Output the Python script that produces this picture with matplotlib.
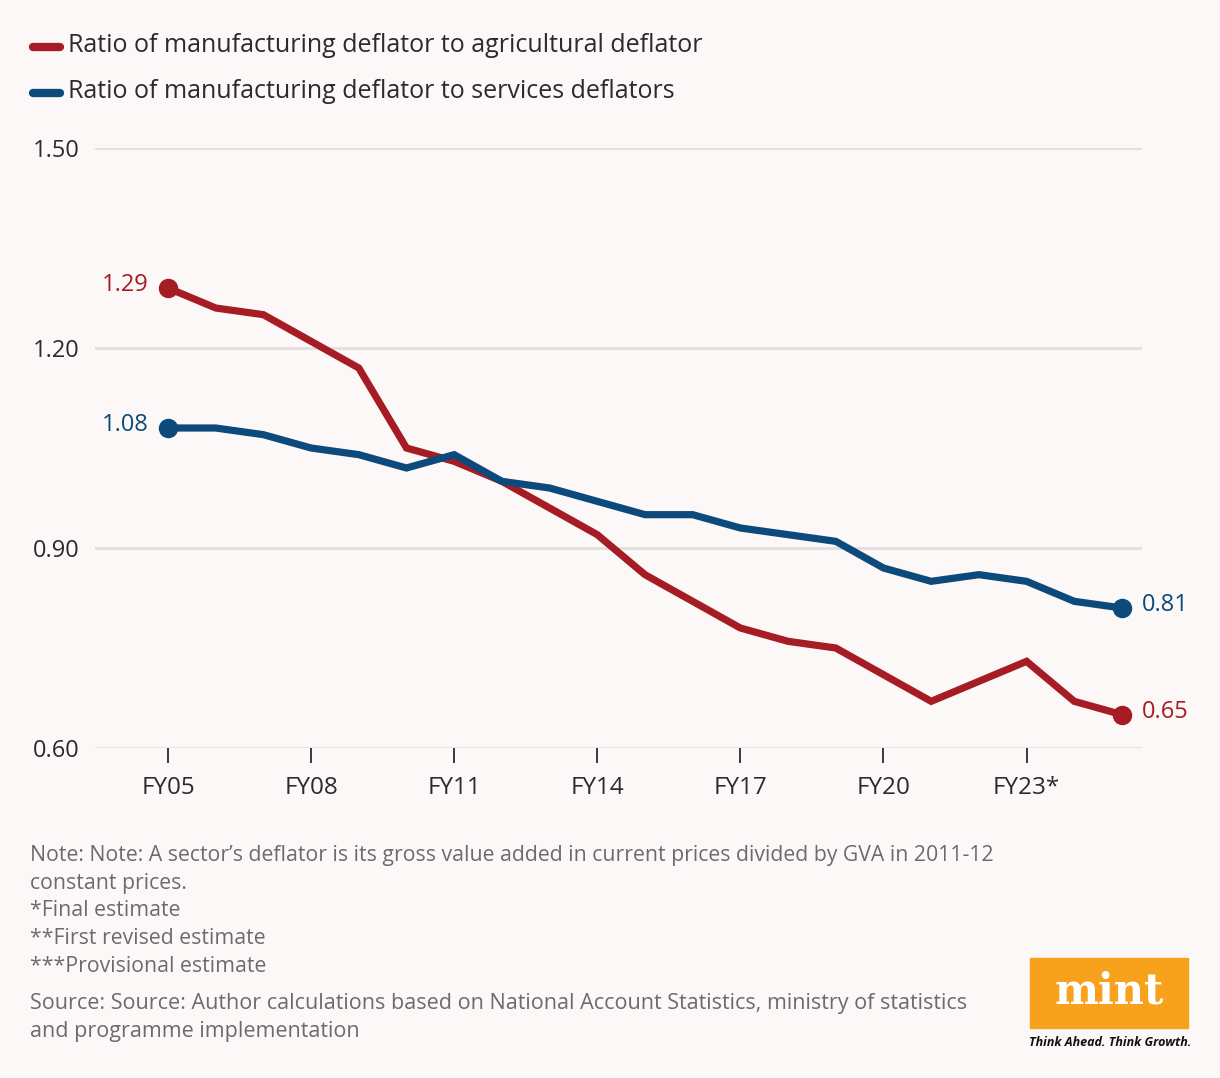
import matplotlib.pyplot as plt
from matplotlib.lines import Line2D
from matplotlib.patches import Rectangle

# data, FY05 .. FY25
years = ["FY05", "FY06", "FY07", "FY08", "FY09", "FY10", "FY11", "FY12", "FY13", "FY14",
         "FY15", "FY16", "FY17", "FY18", "FY19", "FY20", "FY21", "FY22", "FY23*", "FY24", "FY25"]
agri_ratio = [1.29, 1.26, 1.25, 1.21, 1.17, 1.05, 1.03, 1.00, 0.96, 0.92,
              0.86, 0.82, 0.78, 0.76, 0.75, 0.71, 0.67, 0.70, 0.73, 0.67, 0.65]
serv_ratio = [1.08, 1.08, 1.07, 1.05, 1.04, 1.02, 1.04, 1.00, 0.99, 0.97,
              0.95, 0.95, 0.93, 0.92, 0.91, 0.87, 0.85, 0.86, 0.85, 0.82, 0.81]
y_ticks = [0.60, 0.90, 1.20, 1.50]
x_tick_idx = [0, 3, 6, 9, 12, 15, 18]

RED = "#a51c24"
BLUE = "#0b4a7b"
BG = "#fdf8f8"
TXT = "#2b2b2b"
GREY = "#6b6b6b"

plt.rcParams['font.family'] = ['Open Sans', 'DejaVu Sans']

fig = plt.figure(figsize=(12.2, 10.78), dpi=100, facecolor=BG)
W, H = 1220, 1078
ax = fig.add_axes([95 / W, 1 - 748 / H, (1142 - 95) / W, 600 / H])
ax.set_facecolor(BG)

x = list(range(len(years)))
ax.plot(x, agri_ratio, color=RED, lw=5.2, solid_joinstyle='miter', zorder=3)
ax.plot(x, serv_ratio, color=BLUE, lw=5.2, solid_joinstyle='miter', zorder=4)

# end markers and labels
for vals, col in [(agri_ratio, RED), (serv_ratio, BLUE)]:
    ax.plot([x[0], x[-1]], [vals[0], vals[-1]], 'o', color=col, ms=13, zorder=5)
    ax.annotate(f"{vals[0]:.2f}", (x[0], vals[0]), xytext=(-14, 2), textcoords='offset points',
                ha='right', va='center', fontsize=17, color=col)
    ax.annotate(f"{vals[-1]:.2f}", (x[-1], vals[-1]), xytext=(14, 2), textcoords='offset points',
                ha='left', va='center', fontsize=17, color=col)

ax.set_xlim(-1.53, 20.42)
ax.set_ylim(0.60, 1.50)
ax.set_yticks(y_ticks)
ax.set_yticklabels([f"{v:.2f}" for v in y_ticks], fontsize=17, color=TXT)
ax.set_xticks(x_tick_idx)
ax.set_xticklabels([years[i] for i in x_tick_idx], fontsize=17.5, color=TXT)
ax.tick_params(axis='y', length=0, pad=11)
ax.tick_params(axis='x', length=11, width=1.3, color=TXT, pad=9)
ax.grid(axis='y', color='#e3dfdf', lw=2, zorder=0)
for s in ax.spines.values():
    s.set_visible(False)

# legend at top
legend_items = [("Ratio of manufacturing deflator to agricultural deflator", RED, 47),
                ("Ratio of manufacturing deflator to services deflators", BLUE, 93)]
for label, col, ypx in legend_items:
    fig.add_artist(Line2D([33 / W, 60 / W], [1 - ypx / H] * 2, color=col, lw=6,
                          solid_capstyle='round', transform=fig.transFigure))
    fig.text(68 / W, 1 - (ypx - 2) / H, label, fontsize=18, color=TXT, va='center', ha='left')

# notes
notes = ["Note: Note: A sector\u2019s deflator is its gross value added in current prices divided by GVA in 2011-12",
         "constant prices.",
         "*Final estimate",
         "**First revised estimate",
         "***Provisional estimate"]
for i, line in enumerate(notes):
    fig.text(30 / W, 1 - (855 + 28 * i) / H, line, fontsize=15.3, color=GREY, va='center')
source = ["Source: Source: Author calculations based on National Account Statistics, ministry of statistics",
          "and programme implementation"]
for i, line in enumerate(source):
    fig.text(30 / W, 1 - (1003 + 28 * i) / H, line, fontsize=15.5, color=GREY, va='center')

# mint logo
fig.add_artist(Rectangle((1030 / W, 1 - 1028 / H), 158 / W, 70 / H, color='#f7a11d',
                         transform=fig.transFigure))
fig.text(1109 / W, 1 - 991 / H, "mint", fontsize=30, color='white', fontweight='bold',
         family='DejaVu Serif', ha='center', va='center')
fig.text(1110 / W, 1 - 1042 / H, "Think Ahead. Think Growth.", fontsize=9, color='#111111',
         fontstyle='italic', fontweight='bold', ha='center', va='center')

fig.savefig("out.png", dpi=100, facecolor=BG)
